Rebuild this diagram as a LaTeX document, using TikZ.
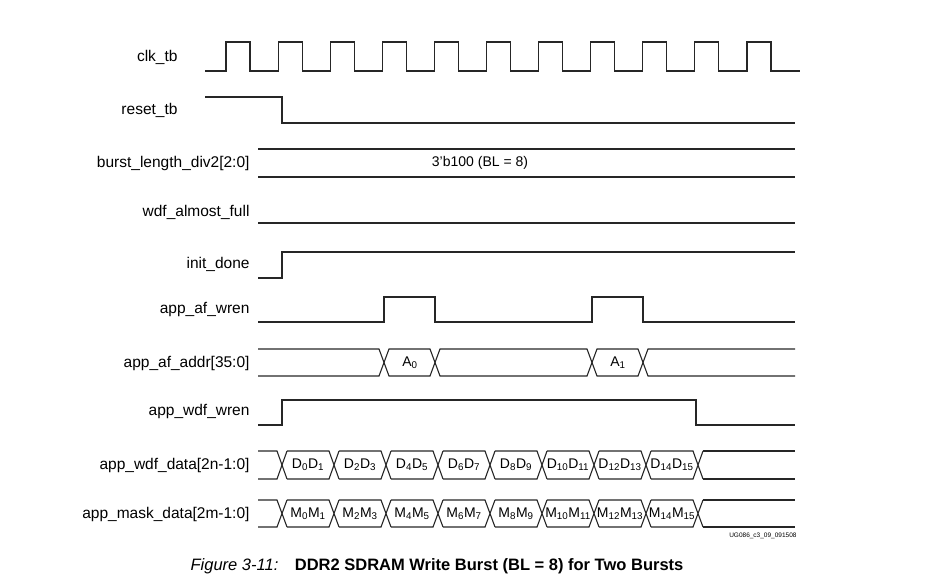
\documentclass[tikz,border=0pt]{standalone}
\usepackage{fontspec}
\setmainfont{Liberation Sans}
\begin{document}
\begin{tikzpicture}[x=1pt,y=-1pt,line width=1pt,
  lbl/.style={anchor=east,font=\fontsize{15.5}{17}\selectfont,inner sep=0pt},
  sig/.style={draw=black!85,line width=1.1pt},
  btxt/.style={font=\fontsize{14}{16}\selectfont,inner sep=0pt}]
\useasboundingbox (0,0) rectangle (942,582);
\newcommand{\sbs}[1]{\textsubscript{#1}}
% labels
\node[lbl] (l1) at (178,57) {clk\_tb};
\node[lbl] (l2) at (178,110) {reset\_tb};
\node[lbl] (l3) at (250,163) {burst\_length\_div2[2:0]};
\node[lbl] (l4) at (250,212) {wdf\_almost\_full};
\node[lbl] (l5) at (250,264) {init\_done};
\node[lbl] (l6) at (250,309) {app\_af\_wren};
\node[lbl] (l7) at (250,363) {app\_af\_addr[35:0]};
\node[lbl] (l8) at (250,411) {app\_wdf\_wren};
\node[lbl] (l9) at (250,465) {app\_wdf\_data[2n-1:0]};
\node[lbl] (l10) at (250,514) {app\_mask\_data[2m-1:0]};
% clock
\draw[sig] (205,71) \foreach \i in {0,...,10}{ -- ({226+52.1*\i},71) -- ({226+52.1*\i},42) -- ({250+52.1*\i},42) -- ({250+52.1*\i},71)} -- (800,71);
% reset
\draw[sig] (205,97) -- (282,97) -- (282,123) -- (795,123);
% burst length
\draw[sig] (258,149) -- (795,149) (258,177) -- (795,177);
\node[btxt] (bl) at (480,163) {3'b100 (BL = 8)};
% wdf_almost_full
\draw[sig] (258,223) -- (795,223);
% init_done
\draw[sig] (258,278) -- (282,278) -- (282,252) -- (795,252);
% app_af_wren
\draw[sig] (258,322) -- (384,322) -- (384,297) -- (435,297) -- (435,322) -- (592,322) -- (592,297) -- (643,297) -- (643,322) -- (795,322);
% app_af_addr
\draw[sig] (258,349) -- (379,349) -- (389,376) -- (430,376) -- (440,349) -- (587,349) -- (597,376) -- (638,376) -- (648,349) -- (795,349);
\draw[sig] (258,376) -- (379,376) -- (389,349) -- (430,349) -- (440,376) -- (587,376) -- (597,349) -- (638,349) -- (648,376) -- (795,376);
\node[btxt] (a0) at (410,362.5) {A\sbs{0}};
\node[btxt] (a1) at (618,362.5) {A\sbs{1}};
% app_wdf_wren
\draw[sig] (258,425) -- (282,425) -- (282,400) -- (696,400) -- (696,425) -- (795,425);
% data buses
\foreach \yt/\yb in {451/479,500/527}{
  \draw[sig] (258,\yt) -- (277,\yt) -- (287,\yb);
  \draw[sig] (258,\yb) -- (277,\yb) -- (287,\yt);
  \foreach \i in {0,...,7}{
    \draw[sig] ({287+52*\i},\yt) -- ({329+52*\i},\yt) -- ({339+52*\i},\yb)
               ({287+52*\i},\yb) -- ({329+52*\i},\yb) -- ({339+52*\i},\yt);
  }
  \draw[sig] (703,\yt) -- (795,\yt) (703,\yb) -- (795,\yb);
}
\foreach \i in {0,...,7}{
  \pgfmathtruncatemacro{\a}{2*\i}\pgfmathtruncatemacro{\b}{2*\i+1}
  \node[btxt] (d\i) at ({308+52*\i},465) {D\sbs{\a}D\sbs{\b}};
  \node[btxt] (m\i) at ({308+52*\i},514) {M\sbs{\a}M\sbs{\b}};
}
\node[font=\fontsize{6.5}{7}\selectfont,anchor=east,inner sep=0pt] (id) at (797,536) {UG086\_c3\_09\_091508};
\node[font=\fontsize{16.5}{18}\selectfont,inner sep=0pt] (cap) at (437,566) {\textit{Figure 3-11:}\quad \textbf{DDR2 SDRAM Write Burst (BL = 8) for Two Bursts}};
\end{tikzpicture}
\end{document}
